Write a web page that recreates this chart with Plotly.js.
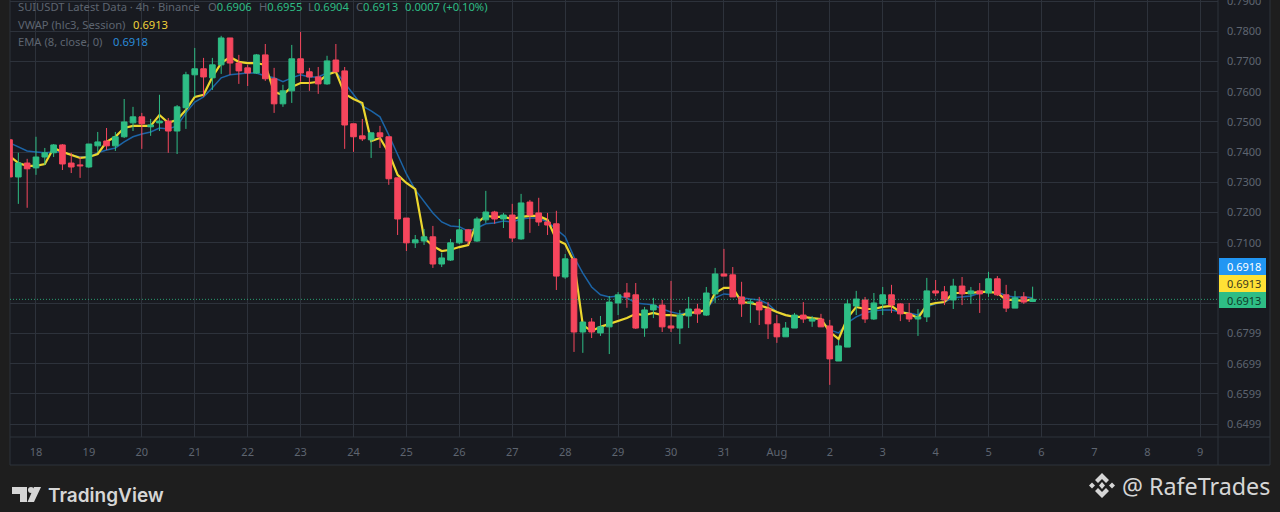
<!DOCTYPE html>
<html><head><meta charset="utf-8">
<script src="https://cdn.plot.ly/plotly-3.0.1.min.js"></script>
<style>html,body{margin:0;padding:0;background:#1e1e1e;overflow:hidden}#c{width:1280px;height:512px}</style>
</head><body><div id="c"></div>
<script>
const firstCandle = '2023-07-17T12:00:00Z';
const open = [.7441,.7318,.7364,.7348,.7384,.7398,.7424,.7364,.7358,.7351,.7421,.7437,.7421,.7451,.7497,.7517,.7484,.7497,.7503,.7470,.7547,.7656,.7676,.7646,.7689,.7778,.7695,.7679,.7662,.7722,.7643,.7560,.7603,.7709,.7666,.7649,.7626,.7705,.7669,.7494,.7454,.7441,.7464,.7451,.7315,.7182,.7100,.7106,.7120,.7030,.7043,.7100,.7143,.7106,.7176,.7202,.7179,.7192,.7113,.7235,.7199,.7169,.7163,.6987,.7047,.6805,.6838,.6802,.6822,.6901,.6934,.6928,.6818,.6878,.6894,.6825,.6818,.6858,.6881,.6861,.6931,.6997,.6994,.6921,.6901,.6904,.6881,.6832,.6789,.6818,.6861,.6841,.6848,.6825,.6709,.6755,.6891,.6911,.6848,.6898,.6928,.6898,.6865,.6848,.6855,.6941,.6938,.6911,.6957,.6931,.6941,.6934,.6981,.6928,.6884,.6921,.6906];
const high = [.7498,.7398,.7378,.7451,.7414,.7427,.7427,.7398,.7384,.7427,.7467,.7480,.7467,.7576,.7550,.7530,.7510,.7590,.7513,.7556,.7666,.7745,.7712,.7712,.7785,.7778,.7722,.7689,.7725,.7758,.7679,.7623,.7755,.7798,.7679,.7682,.7719,.7758,.7682,.7494,.7510,.7464,.7487,.7451,.7315,.7182,.7126,.7146,.7156,.7067,.7113,.7179,.7146,.7186,.7272,.7206,.7199,.7229,.7262,.7242,.7249,.7199,.7206,.7063,.7047,.6838,.6851,.6858,.6924,.6937,.6967,.6967,.6888,.6918,.6911,.6974,.6878,.6921,.6898,.6954,.7017,.7080,.7020,.6971,.6914,.6921,.6904,.6861,.6838,.6868,.6904,.6858,.6865,.6845,.6779,.6911,.6941,.6921,.6934,.6954,.6961,.6901,.6901,.6881,.6984,.6977,.6957,.6981,.6987,.6954,.6967,.7004,.6990,.6961,.6941,.6937,.6955];
const low = [.7298,.7229,.7216,.7325,.7358,.7384,.7341,.7331,.7315,.7348,.7401,.7407,.7404,.7447,.7470,.7411,.7454,.7470,.7398,.7394,.7477,.7583,.7583,.7606,.7659,.7656,.7626,.7619,.7659,.7636,.7530,.7550,.7563,.7633,.7603,.7593,.7623,.7666,.7411,.7401,.7437,.7381,.7414,.7292,.7126,.7073,.7083,.7093,.7017,.7020,.7040,.7096,.7093,.7103,.7166,.7163,.7149,.7103,.7110,.7133,.7156,.7126,.6944,.6981,.6739,.6736,.6785,.6792,.6732,.6861,.6885,.6815,.6789,.6851,.6805,.6805,.6765,.6818,.6835,.6858,.6901,.6990,.6921,.6855,.6835,.6828,.6782,.6769,.6789,.6818,.6835,.6822,.6822,.6630,.6709,.6755,.6861,.6835,.6845,.6861,.6868,.6841,.6838,.6792,.6838,.6924,.6894,.6881,.6894,.6898,.6868,.6921,.6924,.6871,.6884,.6898,.6904];
const close = [.7318,.7364,.7345,.7384,.7398,.7424,.7361,.7351,.7355,.7427,.7434,.7421,.7451,.7500,.7517,.7494,.7490,.7503,.7470,.7550,.7656,.7676,.7649,.7689,.7778,.7695,.7669,.7662,.7722,.7643,.7560,.7603,.7709,.7662,.7649,.7626,.7702,.7666,.7490,.7451,.7444,.7464,.7451,.7312,.7179,.7100,.7110,.7120,.7030,.7050,.7100,.7143,.7106,.7179,.7202,.7179,.7192,.7116,.7232,.7192,.7169,.7159,.6990,.7047,.6805,.6838,.6805,.6822,.6904,.6928,.6921,.6818,.6878,.6894,.6822,.6818,.6861,.6881,.6865,.6934,.6997,.6990,.6921,.6898,.6904,.6878,.6832,.6789,.6818,.6861,.6848,.6848,.6822,.6716,.6759,.6898,.6914,.6848,.6901,.6928,.6894,.6865,.6848,.6855,.6941,.6934,.6911,.6957,.6931,.6941,.6931,.6981,.6928,.6884,.6918,.6904,.6913];
const vwap = [.7388,.7364,.7355,.7355,.7361,.7414,.7401,.7391,.7381,.7384,.7394,.7434,.7451,.7480,.7487,.7487,.7487,.7523,.7497,.7507,.7540,.7583,.7590,.7649,.7695,.7715,.7699,.7695,.7695,.7689,.7599,.7590,.7616,.7629,.7629,.7633,.7656,.7666,.7593,.7576,.7563,.7437,.7447,.7398,.7325,.7298,.7278,.7116,.7090,.7073,.7077,.7086,.7093,.7166,.7189,.7186,.7186,.7179,.7186,.7189,.7189,.7176,.7110,.7096,.7037,.6828,.6808,.6822,.6832,.6841,.6851,.6865,.6861,.6868,.6861,.6861,.6858,.6868,.6871,.6878,.6934,.6951,.6951,.6904,.6901,.6894,.6884,.6871,.6861,.6855,.6855,.6851,.6848,.6805,.6782,.6851,.6888,.6881,.6881,.6888,.6891,.6871,.6865,.6851,.6894,.6901,.6904,.6934,.6934,.6934,.6938,.6938,.6934,.6911,.6911,.6908,.6913];
const ema = [.7431,.7417,.7404,.7401,.7398,.7401,.7401,.7391,.7384,.7384,.7398,.7407,.7414,.7434,.7451,.7460,.7467,.7480,.7477,.7487,.7530,.7566,.7583,.7613,.7646,.7656,.7659,.7662,.7662,.7652,.7646,.7633,.7646,.7656,.7649,.7649,.7662,.7666,.7629,.7590,.7553,.7537,.7517,.7457,.7391,.7328,.7275,.7235,.7199,.7169,.7156,.7153,.7139,.7149,.7163,.7166,.7172,.7169,.7179,.7182,.7182,.7169,.7143,.7120,.7053,.7000,.6954,.6928,.6921,.6924,.6918,.6901,.6898,.6894,.6881,.6871,.6865,.6868,.6868,.6878,.6918,.6931,.6928,.6918,.6914,.6911,.6898,.6871,.6861,.6855,.6855,.6851,.6845,.6812,.6802,.6835,.6855,.6868,.6875,.6878,.6878,.6871,.6868,.6861,.6888,.6898,.6904,.6918,.6921,.6924,.6934,.6938,.6938,.6924,.6921,.6921,.6918];
const dayTicks = ['2023-07-18','2023-07-19','2023-07-20','2023-07-21','2023-07-22','2023-07-23','2023-07-24','2023-07-25','2023-07-26','2023-07-27','2023-07-28','2023-07-29','2023-07-30','2023-07-31','2023-08-01','2023-08-02','2023-08-03','2023-08-04','2023-08-05','2023-08-06','2023-08-07','2023-08-08','2023-08-09'];
const dayLabels = ['18','19','20','21','22','23','24','25','26','27','28','29','30','31','Aug','2','3','4','5','6','7','8','9'];
const priceTicks = [.79,.78,.77,.76,.75,.74,.73,.72,.71,.70,.69,.68,.67,.66,.65];
const priceLabels = ['0.7900','0.7800','0.7700','0.7600','0.7500','0.7400','0.7300','0.7200','0.7100','','','0.6799','0.6699','0.6599','0.6499'];
const xRange = ['2023-07-17 12:13','2023-08-09 08:04'];
const yRange = [0.64575,0.79036];
const GREEN='#2ebd85', RED='#f6465d', YEL='#ecd62e', BLUE='#1c64a6', GRID='#2d323b', TXT='#5e6570', FONT='"Noto Sans", sans-serif';

const t0 = Date.parse(firstCandle);
const times = open.map((_,i)=>new Date(t0+i*4*3600e3).toISOString().slice(0,16).replace('T',' '));
const xp = px => (px-10)/1208, yp = py => (437-py)/437;

function rect(x0,y0,x1,y1,fill,line){return {type:'rect',xref:'paper',yref:'paper',x0:xp(x0),x1:xp(x1),y0:yp(y0),y1:yp(y1),fillcolor:fill,line:{width:line?1:0,color:line||fill},layer:'below'};}
function seg(x0,y0,x1,y1){return {type:'line',xref:'paper',yref:'paper',x0:xp(x0),x1:xp(x1),y0:yp(y0),y1:yp(y1),line:{width:1,color:GRID},layer:'below'};}
function poly(pts,fill){return {type:'path',xref:'paper',yref:'paper',path:'M'+pts.map(p=>xp(p[0])+','+yp(p[1])).join('L')+'Z',fillcolor:fill,line:{width:0}};}
function note(x,y,text,size,color,extra){return Object.assign({xref:'paper',yref:'paper',x:xp(x),y:yp(y),xanchor:'left',yanchor:'middle',showarrow:false,text,font:{family:FONT,size,color},borderpad:0},extra||{});}
const LOGO='#d6d6d6';
const shapes=[
  rect(10,0,1270,465,'#181a20'),
  seg(10,437,1270,437),seg(10,465,1270,465),seg(1218,0,1218,465),seg(10,0,10,465),seg(1270,0,1270,465),
  {type:'line',xref:'paper',yref:'y',x0:0,x1:1,y0:close[close.length-1],y1:close[close.length-1],opacity:0.8,line:{width:1,color:GREEN,dash:'1px,2px'}},
  rect(1219,258,1266,275,'#2196f3'),rect(1219,275,1266,292,'#ffe135'),rect(1219,292,1266,308,GREEN),
  // TradingView mark
  poly([[12,487],[27,487],[27,502],[20,502],[20,494],[12,494]],LOGO),
  {type:'circle',xref:'paper',yref:'paper',x0:xp(28),x1:xp(34),y0:yp(493),y1:yp(487),fillcolor:LOGO,line:{width:0}},
  poly([[34,487],[41,487],[34,502],[27.5,502]],LOGO),
  // Binance mark
  poly([[1102,473],[1109,480],[1106,483],[1102,479],[1098,483],[1095,480]],LOGO),
  poly([[1102,498],[1109,491],[1106,488],[1102,492],[1098,488],[1095,491]],LOGO),
  poly([[1102,482],[1105,485.5],[1102,489],[1099,485.5]],LOGO),
  poly([[1092,482.5],[1095,485.5],[1092,488.5],[1089,485.5]],LOGO),
  poly([[1112,482.5],[1115,485.5],[1112,488.5],[1109,485.5]],LOGO)
];
const n=close.length-1;
const vals=`<span style="color:${GREEN}">`;
const annotations=[
  note(17,7,'SUIUSDT Latest Data · 4h · Binance',11.2,TXT),
  note(207,7,`O${vals}${open[n].toFixed(4)}</span>`,11.2,TXT),
  note(258,7,`H${vals}${high[n].toFixed(4)}</span>`,11.2,TXT),
  note(307,7,`L${vals}${low[n].toFixed(4)}</span>`,11.2,TXT),
  note(355,7,`C${vals}${close[n].toFixed(4)}</span>`,11.2,TXT),
  note(404,7,`${vals}0.0007 (+0.10%)</span>`,11.2,TXT),
  note(17,24,'VWAP (hlc3, Session)',11.2,TXT),
  note(132,24,vwap[n].toFixed(4),11.2,'#f0d43a'),
  note(17,41,'EMA (8, close, 0)',11.2,TXT),
  note(112,41,ema[n].toFixed(4),11.2,'#2a8ad8'),
  note(1226,266.5,ema[n].toFixed(4),11,'#ffffff'),
  note(1226,283.5,vwap[n].toFixed(4),11,'#3a3a20'),
  note(1226,300,close[n].toFixed(4),11,'#0f3b2a'),
  note(47,495,'TradingView',19,LOGO,{font:{family:'Inter, sans-serif',size:19,color:LOGO,weight:600}}),
  note(1121,486,'@ RafeTrades',23.3,LOGO)
];
const traces=[
 {type:'scatter',mode:'lines',x:times,y:ema,line:{color:BLUE,width:1.5},hoverinfo:'skip',showlegend:false},
 {type:'scatter',mode:'lines',x:times,y:vwap,line:{color:YEL,width:2.2},hoverinfo:'skip',showlegend:false},
 {type:'candlestick',x:times,open,high,low,close,xaxis:'x2',yaxis:'y2',
  increasing:{line:{color:GREEN,width:1},fillcolor:GREEN},
  decreasing:{line:{color:RED,width:1},fillcolor:RED},whiskerwidth:0,hoverinfo:'skip',showlegend:false}
];
const layout={width:1280,height:512,margin:{l:10,r:62,t:0,b:75,pad:0},paper_bgcolor:'#1e1e1e',plot_bgcolor:'#181a20',showlegend:false,
 font:{family:FONT,color:TXT,size:11},
 xaxis:{type:'date',range:xRange,tickmode:'array',tickvals:dayTicks,ticktext:dayLabels,showgrid:true,gridcolor:GRID,gridwidth:1,zeroline:false,showline:false,ticks:'',ticklabelstandoff:7,tickangle:0,tickfont:{family:FONT,size:11,color:TXT}},
 yaxis:{side:'right',range:yRange,tickmode:'array',tickvals:priceTicks,ticktext:priceLabels,showgrid:true,gridcolor:GRID,gridwidth:1,zeroline:false,showline:false,ticks:'',ticklabelstandoff:8,ticklabeloverflow:'allow',tickfont:{family:FONT,size:11,color:TXT}},
 xaxis2:{type:'date',overlaying:'x',range:xRange,visible:false,rangeslider:{visible:false}},
 yaxis2:{overlaying:'y',side:'right',range:yRange,visible:false},
 shapes,annotations,boxgap:0.36,boxgroupgap:0};
Plotly.newPlot('c',traces,layout,{displayModeBar:false,staticPlot:true});
</script></body></html>
